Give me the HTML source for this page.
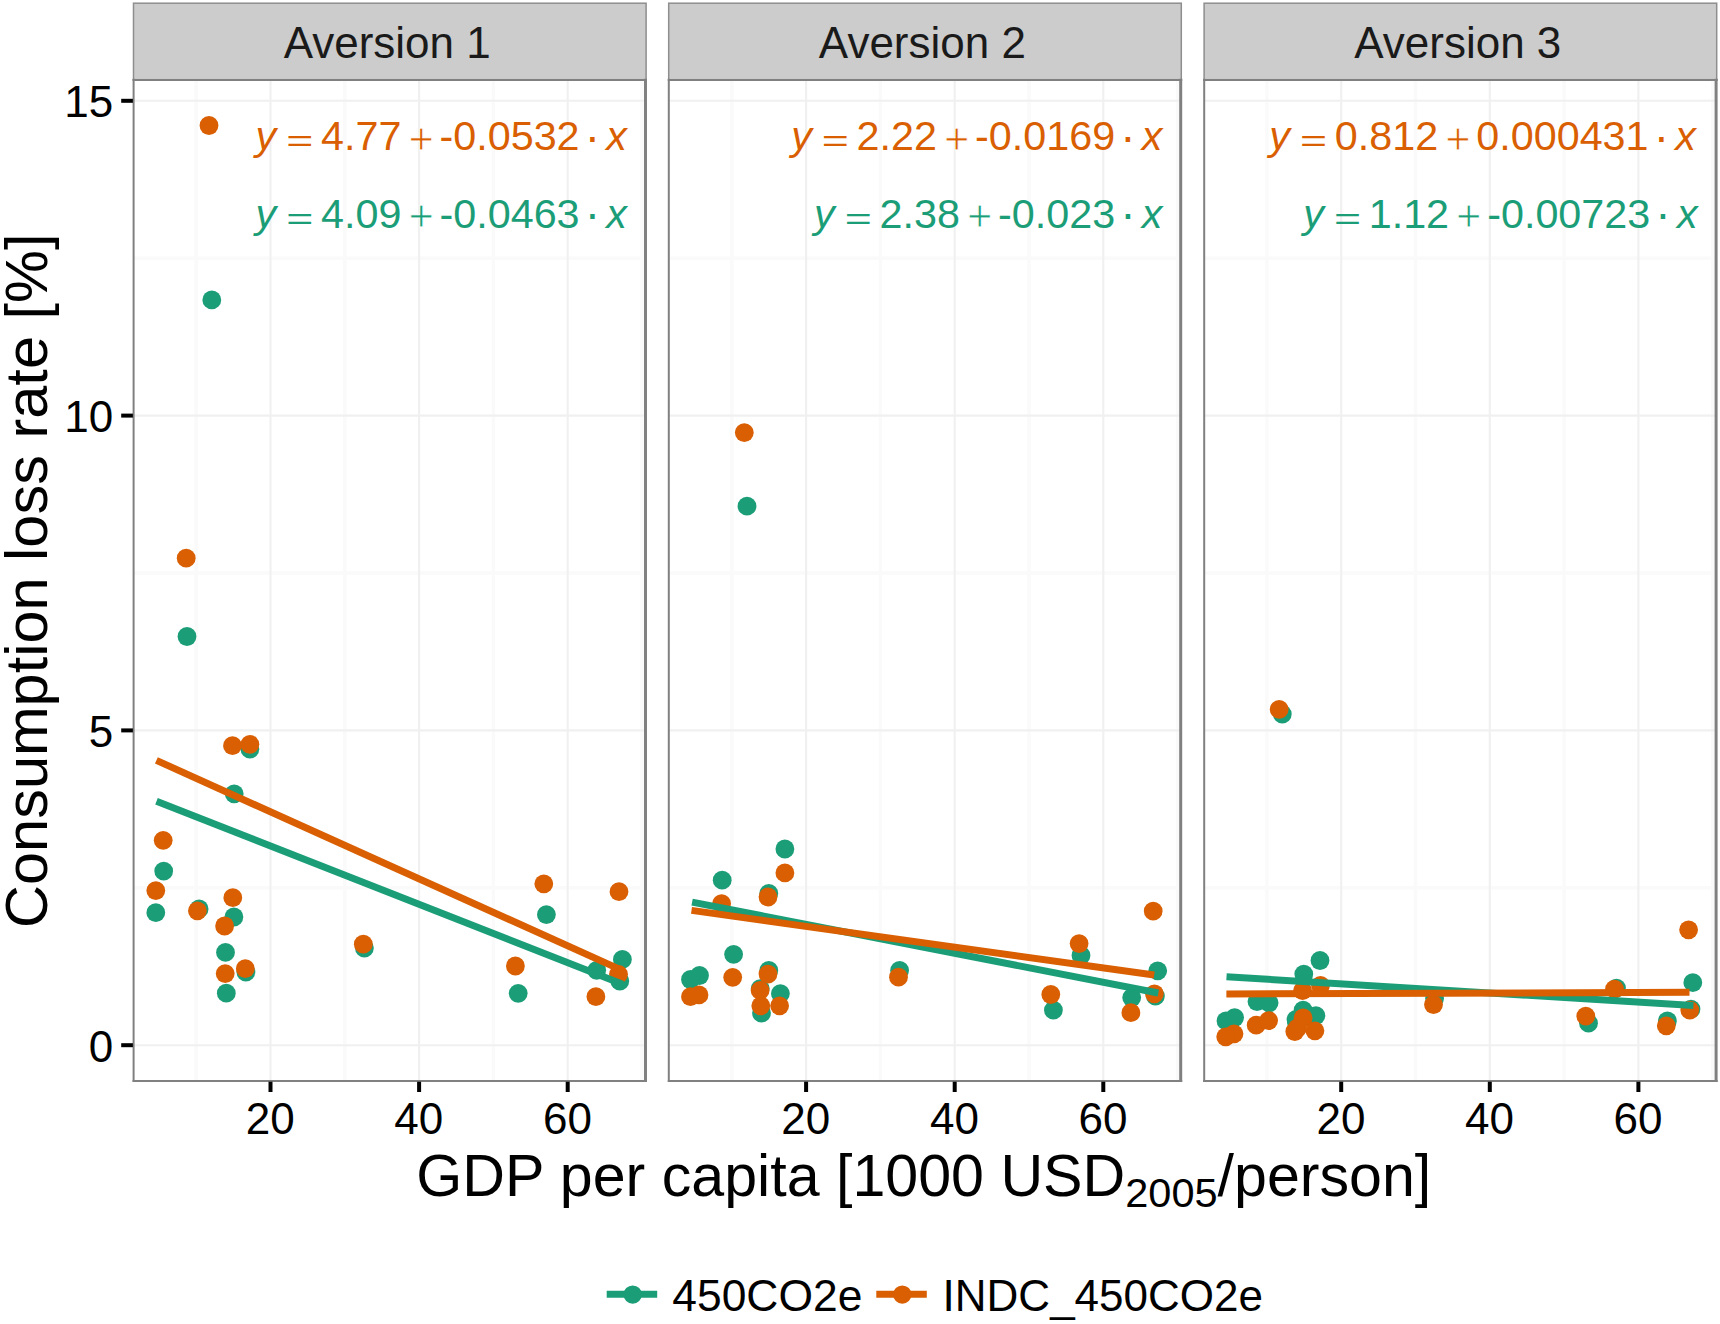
<!DOCTYPE html>
<html><head><meta charset="utf-8"><title>Consumption loss rate vs GDP per capita</title>
<style>html,body{margin:0;padding:0;background:#fff}svg{display:block}</style></head>
<body>
<svg width="1720" height="1324" viewBox="0 0 1720 1324" font-family='"Liberation Sans", sans-serif'>
<rect width="1720" height="1324" fill="#fff"/>
<g>
<rect x="133.9" y="79.8" width="511.7" height="1000.9000000000001" fill="#fff"/>
<line x1="196.2" x2="196.2" y1="79.8" y2="1080.7" stroke="#fafafa" stroke-width="3.4"/>
<line x1="344.8" x2="344.8" y1="79.8" y2="1080.7" stroke="#fafafa" stroke-width="3.4"/>
<line x1="493.4" x2="493.4" y1="79.8" y2="1080.7" stroke="#fafafa" stroke-width="3.4"/>
<line x1="642.0" x2="642.0" y1="79.8" y2="1080.7" stroke="#fafafa" stroke-width="3.4"/>
<line x1="133.9" x2="645.6" y1="887.8" y2="887.8" stroke="#fafafa" stroke-width="3.4"/>
<line x1="133.9" x2="645.6" y1="573.0" y2="573.0" stroke="#fafafa" stroke-width="3.4"/>
<line x1="133.9" x2="645.6" y1="258.2" y2="258.2" stroke="#fafafa" stroke-width="3.4"/>
<line x1="270.5" x2="270.5" y1="79.8" y2="1080.7" stroke="#f0f0f0" stroke-width="2.1"/>
<line x1="419.1" x2="419.1" y1="79.8" y2="1080.7" stroke="#f0f0f0" stroke-width="2.1"/>
<line x1="567.7" x2="567.7" y1="79.8" y2="1080.7" stroke="#f0f0f0" stroke-width="2.1"/>
<line x1="133.9" x2="645.6" y1="1045.2" y2="1045.2" stroke="#f0f0f0" stroke-width="2.1"/>
<line x1="133.9" x2="645.6" y1="730.4" y2="730.4" stroke="#f0f0f0" stroke-width="2.1"/>
<line x1="133.9" x2="645.6" y1="415.6" y2="415.6" stroke="#f0f0f0" stroke-width="2.1"/>
<line x1="133.9" x2="645.6" y1="100.8" y2="100.8" stroke="#f0f0f0" stroke-width="2.1"/>
<circle cx="211.8" cy="299.9" r="9.4" fill="#1B9E77"/>
<circle cx="187.0" cy="636.5" r="9.4" fill="#1B9E77"/>
<circle cx="249.9" cy="749.0" r="9.4" fill="#1B9E77"/>
<circle cx="234.2" cy="793.8" r="9.4" fill="#1B9E77"/>
<circle cx="163.7" cy="871.1" r="9.4" fill="#1B9E77"/>
<circle cx="155.8" cy="912.7" r="9.4" fill="#1B9E77"/>
<circle cx="199.1" cy="908.9" r="9.4" fill="#1B9E77"/>
<circle cx="233.9" cy="917.0" r="9.4" fill="#1B9E77"/>
<circle cx="225.5" cy="952.4" r="9.4" fill="#1B9E77"/>
<circle cx="245.9" cy="972.0" r="9.4" fill="#1B9E77"/>
<circle cx="226.3" cy="993.2" r="9.4" fill="#1B9E77"/>
<circle cx="364.4" cy="948.0" r="9.4" fill="#1B9E77"/>
<circle cx="546.4" cy="914.6" r="9.4" fill="#1B9E77"/>
<circle cx="622.4" cy="959.4" r="9.4" fill="#1B9E77"/>
<circle cx="596.7" cy="970.3" r="9.4" fill="#1B9E77"/>
<circle cx="619.8" cy="981.0" r="9.4" fill="#1B9E77"/>
<circle cx="518.2" cy="993.3" r="9.4" fill="#1B9E77"/>
<circle cx="209.0" cy="125.5" r="9.4" fill="#D95F02"/>
<circle cx="186.2" cy="558.2" r="9.4" fill="#D95F02"/>
<circle cx="232.5" cy="745.7" r="9.4" fill="#D95F02"/>
<circle cx="249.9" cy="744.3" r="9.4" fill="#D95F02"/>
<circle cx="163.2" cy="840.3" r="9.4" fill="#D95F02"/>
<circle cx="155.8" cy="890.6" r="9.4" fill="#D95F02"/>
<circle cx="197.4" cy="910.8" r="9.4" fill="#D95F02"/>
<circle cx="232.8" cy="897.7" r="9.4" fill="#D95F02"/>
<circle cx="224.6" cy="926.0" r="9.4" fill="#D95F02"/>
<circle cx="225.2" cy="973.6" r="9.4" fill="#D95F02"/>
<circle cx="245.3" cy="968.7" r="9.4" fill="#D95F02"/>
<circle cx="363.3" cy="944.2" r="9.4" fill="#D95F02"/>
<circle cx="543.8" cy="883.8" r="9.4" fill="#D95F02"/>
<circle cx="619.0" cy="891.7" r="9.4" fill="#D95F02"/>
<circle cx="515.4" cy="966.0" r="9.4" fill="#D95F02"/>
<circle cx="595.9" cy="996.7" r="9.4" fill="#D95F02"/>
<circle cx="618.5" cy="974.3" r="9.4" fill="#D95F02"/>
<line x1="156.5" y1="801.3" x2="622.7" y2="984.2" stroke="#1B9E77" stroke-width="7.0"/>
<line x1="156.4" y1="760.4" x2="618.8" y2="968.9" stroke="#D95F02" stroke-width="7.0"/>
<g fill="#D95F02" font-size="41.3">
<text x="265.9" y="150.0" font-style="italic" text-anchor="middle">y</text>
<text transform="translate(299.8,151.2) scale(1.16,0.72)" text-anchor="middle" font-size="40">=</text>
<text x="321.0" y="150.0">4.77</text>
<text x="421.1" y="153.9" text-anchor="middle" font-size="43.5" stroke="#fff" stroke-width="0.9">+</text>
<text x="439.5" y="150.0">-0.0532</text>
<text x="592.3" y="151.6" text-anchor="middle" font-size="46">·</text>
<text x="616.6" y="150.0" font-style="italic" text-anchor="middle">x</text>
</g>
<g fill="#1B9E77" font-size="41.3">
<text x="265.9" y="227.5" font-style="italic" text-anchor="middle">y</text>
<text transform="translate(299.8,228.7) scale(1.16,0.72)" text-anchor="middle" font-size="40">=</text>
<text x="321.0" y="227.5">4.09</text>
<text x="421.1" y="231.4" text-anchor="middle" font-size="43.5" stroke="#fff" stroke-width="0.9">+</text>
<text x="439.5" y="227.5">-0.0463</text>
<text x="592.3" y="229.1" text-anchor="middle" font-size="46">·</text>
<text x="616.6" y="227.5" font-style="italic" text-anchor="middle">x</text>
</g>
<rect x="133.5" y="3.1999999999999997" width="512.6" height="76.5" fill="#cccccc" stroke="#8e8e8e" stroke-width="1.5"/>
<g stroke="#808080" fill="none">
<line x1="133.6" x2="133.6" y1="78.8" y2="1081.9" stroke-width="2"/>
<line x1="645.5" x2="645.5" y1="78.8" y2="1081.9" stroke-width="3"/>
<line x1="132.6" x2="647.0" y1="80.0" y2="80.0" stroke-width="2"/>
<line x1="132.6" x2="647.0" y1="1080.9" y2="1080.9" stroke-width="2"/>
</g>
<text x="387.2" y="58.2" font-size="44" fill="#1a1a1a" text-anchor="middle">Aversion 1</text>
<line x1="270.5" x2="270.5" y1="1081.7" y2="1092" stroke="#000" stroke-width="4"/>
<text x="270.2" y="1133.8" font-size="44" text-anchor="middle" fill="#000">20</text>
<line x1="419.1" x2="419.1" y1="1081.7" y2="1092" stroke="#000" stroke-width="4"/>
<text x="418.8" y="1133.8" font-size="44" text-anchor="middle" fill="#000">40</text>
<line x1="567.7" x2="567.7" y1="1081.7" y2="1092" stroke="#000" stroke-width="4"/>
<text x="567.4" y="1133.8" font-size="44" text-anchor="middle" fill="#000">60</text>
</g>
<g>
<rect x="669.1" y="79.8" width="511.7" height="1000.9000000000001" fill="#fff"/>
<line x1="731.8" x2="731.8" y1="79.8" y2="1080.7" stroke="#fafafa" stroke-width="3.4"/>
<line x1="880.4" x2="880.4" y1="79.8" y2="1080.7" stroke="#fafafa" stroke-width="3.4"/>
<line x1="1029.0" x2="1029.0" y1="79.8" y2="1080.7" stroke="#fafafa" stroke-width="3.4"/>
<line x1="1177.6" x2="1177.6" y1="79.8" y2="1080.7" stroke="#fafafa" stroke-width="3.4"/>
<line x1="669.1" x2="1180.8" y1="887.8" y2="887.8" stroke="#fafafa" stroke-width="3.4"/>
<line x1="669.1" x2="1180.8" y1="573.0" y2="573.0" stroke="#fafafa" stroke-width="3.4"/>
<line x1="669.1" x2="1180.8" y1="258.2" y2="258.2" stroke="#fafafa" stroke-width="3.4"/>
<line x1="806.1" x2="806.1" y1="79.8" y2="1080.7" stroke="#f0f0f0" stroke-width="2.1"/>
<line x1="954.7" x2="954.7" y1="79.8" y2="1080.7" stroke="#f0f0f0" stroke-width="2.1"/>
<line x1="1103.3" x2="1103.3" y1="79.8" y2="1080.7" stroke="#f0f0f0" stroke-width="2.1"/>
<line x1="669.1" x2="1180.8" y1="1045.2" y2="1045.2" stroke="#f0f0f0" stroke-width="2.1"/>
<line x1="669.1" x2="1180.8" y1="730.4" y2="730.4" stroke="#f0f0f0" stroke-width="2.1"/>
<line x1="669.1" x2="1180.8" y1="415.6" y2="415.6" stroke="#f0f0f0" stroke-width="2.1"/>
<line x1="669.1" x2="1180.8" y1="100.8" y2="100.8" stroke="#f0f0f0" stroke-width="2.1"/>
<circle cx="747.0" cy="506.2" r="9.4" fill="#1B9E77"/>
<circle cx="784.9" cy="849.0" r="9.4" fill="#1B9E77"/>
<circle cx="722.2" cy="880.2" r="9.4" fill="#1B9E77"/>
<circle cx="768.8" cy="893.4" r="9.4" fill="#1B9E77"/>
<circle cx="733.6" cy="954.3" r="9.4" fill="#1B9E77"/>
<circle cx="699.5" cy="975.5" r="9.4" fill="#1B9E77"/>
<circle cx="690.5" cy="979.5" r="9.4" fill="#1B9E77"/>
<circle cx="768.8" cy="970.4" r="9.4" fill="#1B9E77"/>
<circle cx="899.6" cy="970.4" r="9.4" fill="#1B9E77"/>
<circle cx="760.2" cy="988.6" r="9.4" fill="#1B9E77"/>
<circle cx="780.4" cy="993.6" r="9.4" fill="#1B9E77"/>
<circle cx="761.5" cy="1013.0" r="9.4" fill="#1B9E77"/>
<circle cx="1081.0" cy="955.5" r="9.4" fill="#1B9E77"/>
<circle cx="1157.7" cy="970.8" r="9.4" fill="#1B9E77"/>
<circle cx="1053.4" cy="1010.1" r="9.4" fill="#1B9E77"/>
<circle cx="1131.7" cy="997.6" r="9.4" fill="#1B9E77"/>
<circle cx="1155.4" cy="996.1" r="9.4" fill="#1B9E77"/>
<circle cx="744.3" cy="432.6" r="9.4" fill="#D95F02"/>
<circle cx="784.9" cy="872.9" r="9.4" fill="#D95F02"/>
<circle cx="721.6" cy="903.7" r="9.4" fill="#D95F02"/>
<circle cx="768.0" cy="897.0" r="9.4" fill="#D95F02"/>
<circle cx="732.7" cy="977.3" r="9.4" fill="#D95F02"/>
<circle cx="699.0" cy="994.9" r="9.4" fill="#D95F02"/>
<circle cx="690.5" cy="996.7" r="9.4" fill="#D95F02"/>
<circle cx="768.0" cy="974.1" r="9.4" fill="#D95F02"/>
<circle cx="898.5" cy="977.2" r="9.4" fill="#D95F02"/>
<circle cx="760.1" cy="990.4" r="9.4" fill="#D95F02"/>
<circle cx="760.8" cy="1005.8" r="9.4" fill="#D95F02"/>
<circle cx="779.6" cy="1005.8" r="9.4" fill="#D95F02"/>
<circle cx="1153.2" cy="911.1" r="9.4" fill="#D95F02"/>
<circle cx="1079.1" cy="943.6" r="9.4" fill="#D95F02"/>
<circle cx="1050.8" cy="994.5" r="9.4" fill="#D95F02"/>
<circle cx="1130.9" cy="1012.7" r="9.4" fill="#D95F02"/>
<circle cx="1154.4" cy="993.8" r="9.4" fill="#D95F02"/>
<line x1="692.1" y1="902.1" x2="1158.3" y2="993.0" stroke="#1B9E77" stroke-width="7.0"/>
<line x1="691.5" y1="910.4" x2="1154.2" y2="975.0" stroke="#D95F02" stroke-width="7.0"/>
<g fill="#D95F02" font-size="41.3">
<text x="801.5" y="150.0" font-style="italic" text-anchor="middle">y</text>
<text transform="translate(835.4,151.2) scale(1.16,0.72)" text-anchor="middle" font-size="40">=</text>
<text x="856.6" y="150.0">2.22</text>
<text x="956.7" y="153.9" text-anchor="middle" font-size="43.5" stroke="#fff" stroke-width="0.9">+</text>
<text x="975.1" y="150.0">-0.0169</text>
<text x="1127.9" y="151.6" text-anchor="middle" font-size="46">·</text>
<text x="1152.2" y="150.0" font-style="italic" text-anchor="middle">x</text>
</g>
<g fill="#1B9E77" font-size="41.3">
<text x="824.4" y="227.5" font-style="italic" text-anchor="middle">y</text>
<text transform="translate(858.3,228.7) scale(1.16,0.72)" text-anchor="middle" font-size="40">=</text>
<text x="879.5" y="227.5">2.38</text>
<text x="979.6" y="231.4" text-anchor="middle" font-size="43.5" stroke="#fff" stroke-width="0.9">+</text>
<text x="998.0" y="227.5">-0.023</text>
<text x="1127.9" y="229.1" text-anchor="middle" font-size="46">·</text>
<text x="1152.2" y="227.5" font-style="italic" text-anchor="middle">x</text>
</g>
<rect x="668.7" y="3.1999999999999997" width="512.6" height="76.5" fill="#cccccc" stroke="#8e8e8e" stroke-width="1.5"/>
<g stroke="#808080" fill="none">
<line x1="668.8" x2="668.8" y1="78.8" y2="1081.9" stroke-width="2"/>
<line x1="1180.7" x2="1180.7" y1="78.8" y2="1081.9" stroke-width="3"/>
<line x1="667.8" x2="1182.2" y1="80.0" y2="80.0" stroke-width="2"/>
<line x1="667.8" x2="1182.2" y1="1080.9" y2="1080.9" stroke-width="2"/>
</g>
<text x="922.4" y="58.2" font-size="44" fill="#1a1a1a" text-anchor="middle">Aversion 2</text>
<line x1="806.1" x2="806.1" y1="1081.7" y2="1092" stroke="#000" stroke-width="4"/>
<text x="805.8" y="1133.8" font-size="44" text-anchor="middle" fill="#000">20</text>
<line x1="954.7" x2="954.7" y1="1081.7" y2="1092" stroke="#000" stroke-width="4"/>
<text x="954.4" y="1133.8" font-size="44" text-anchor="middle" fill="#000">40</text>
<line x1="1103.3" x2="1103.3" y1="1081.7" y2="1092" stroke="#000" stroke-width="4"/>
<text x="1103.0" y="1133.8" font-size="44" text-anchor="middle" fill="#000">60</text>
</g>
<g>
<rect x="1204.5" y="79.8" width="511.7" height="1000.9000000000001" fill="#fff"/>
<line x1="1266.9" x2="1266.9" y1="79.8" y2="1080.7" stroke="#fafafa" stroke-width="3.4"/>
<line x1="1415.5" x2="1415.5" y1="79.8" y2="1080.7" stroke="#fafafa" stroke-width="3.4"/>
<line x1="1564.1" x2="1564.1" y1="79.8" y2="1080.7" stroke="#fafafa" stroke-width="3.4"/>
<line x1="1712.7" x2="1712.7" y1="79.8" y2="1080.7" stroke="#fafafa" stroke-width="3.4"/>
<line x1="1204.5" x2="1716.2" y1="887.8" y2="887.8" stroke="#fafafa" stroke-width="3.4"/>
<line x1="1204.5" x2="1716.2" y1="573.0" y2="573.0" stroke="#fafafa" stroke-width="3.4"/>
<line x1="1204.5" x2="1716.2" y1="258.2" y2="258.2" stroke="#fafafa" stroke-width="3.4"/>
<line x1="1341.2" x2="1341.2" y1="79.8" y2="1080.7" stroke="#f0f0f0" stroke-width="2.1"/>
<line x1="1489.8" x2="1489.8" y1="79.8" y2="1080.7" stroke="#f0f0f0" stroke-width="2.1"/>
<line x1="1638.4" x2="1638.4" y1="79.8" y2="1080.7" stroke="#f0f0f0" stroke-width="2.1"/>
<line x1="1204.5" x2="1716.2" y1="1045.2" y2="1045.2" stroke="#f0f0f0" stroke-width="2.1"/>
<line x1="1204.5" x2="1716.2" y1="730.4" y2="730.4" stroke="#f0f0f0" stroke-width="2.1"/>
<line x1="1204.5" x2="1716.2" y1="415.6" y2="415.6" stroke="#f0f0f0" stroke-width="2.1"/>
<line x1="1204.5" x2="1716.2" y1="100.8" y2="100.8" stroke="#f0f0f0" stroke-width="2.1"/>
<circle cx="1282.3" cy="714.1" r="9.4" fill="#1B9E77"/>
<circle cx="1320.0" cy="960.5" r="9.4" fill="#1B9E77"/>
<circle cx="1303.8" cy="974.1" r="9.4" fill="#1B9E77"/>
<circle cx="1257.0" cy="1001.6" r="9.4" fill="#1B9E77"/>
<circle cx="1269.1" cy="1002.8" r="9.4" fill="#1B9E77"/>
<circle cx="1234.6" cy="1017.6" r="9.4" fill="#1B9E77"/>
<circle cx="1226.0" cy="1020.9" r="9.4" fill="#1B9E77"/>
<circle cx="1303.1" cy="1010.1" r="9.4" fill="#1B9E77"/>
<circle cx="1296.0" cy="1019.4" r="9.4" fill="#1B9E77"/>
<circle cx="1296.5" cy="1023.0" r="9.4" fill="#1B9E77"/>
<circle cx="1315.9" cy="1015.6" r="9.4" fill="#1B9E77"/>
<circle cx="1434.6" cy="998.3" r="9.4" fill="#1B9E77"/>
<circle cx="1692.8" cy="982.7" r="9.4" fill="#1B9E77"/>
<circle cx="1616.5" cy="988.1" r="9.4" fill="#1B9E77"/>
<circle cx="1588.5" cy="1023.2" r="9.4" fill="#1B9E77"/>
<circle cx="1667.4" cy="1020.9" r="9.4" fill="#1B9E77"/>
<circle cx="1691.0" cy="1009.1" r="9.4" fill="#1B9E77"/>
<circle cx="1279.2" cy="709.3" r="9.4" fill="#D95F02"/>
<circle cx="1320.5" cy="985.4" r="9.4" fill="#D95F02"/>
<circle cx="1302.6" cy="990.7" r="9.4" fill="#D95F02"/>
<circle cx="1256.2" cy="1025.2" r="9.4" fill="#D95F02"/>
<circle cx="1268.6" cy="1020.6" r="9.4" fill="#D95F02"/>
<circle cx="1234.0" cy="1033.8" r="9.4" fill="#D95F02"/>
<circle cx="1225.7" cy="1036.8" r="9.4" fill="#D95F02"/>
<circle cx="1303.1" cy="1017.9" r="9.4" fill="#D95F02"/>
<circle cx="1294.8" cy="1031.5" r="9.4" fill="#D95F02"/>
<circle cx="1297.5" cy="1028.0" r="9.4" fill="#D95F02"/>
<circle cx="1314.9" cy="1030.8" r="9.4" fill="#D95F02"/>
<circle cx="1433.5" cy="1004.6" r="9.4" fill="#D95F02"/>
<circle cx="1688.6" cy="929.8" r="9.4" fill="#D95F02"/>
<circle cx="1614.5" cy="989.2" r="9.4" fill="#D95F02"/>
<circle cx="1585.8" cy="1016.1" r="9.4" fill="#D95F02"/>
<circle cx="1666.3" cy="1025.8" r="9.4" fill="#D95F02"/>
<circle cx="1689.8" cy="1010.1" r="9.4" fill="#D95F02"/>
<line x1="1226.5" y1="976.8" x2="1693.4" y2="1005.4" stroke="#1B9E77" stroke-width="7.0"/>
<line x1="1226.4" y1="994.0" x2="1689.5" y2="992.3" stroke="#D95F02" stroke-width="7.0"/>
<g fill="#D95F02" font-size="41.3">
<text x="1279.7" y="150.0" font-style="italic" text-anchor="middle">y</text>
<text transform="translate(1313.6,151.2) scale(1.16,0.72)" text-anchor="middle" font-size="40">=</text>
<text x="1334.8" y="150.0">0.812</text>
<text x="1457.9" y="153.9" text-anchor="middle" font-size="43.5" stroke="#fff" stroke-width="0.9">+</text>
<text x="1476.3" y="150.0">0.000431</text>
<text x="1661.3" y="151.6" text-anchor="middle" font-size="46">·</text>
<text x="1685.6" y="150.0" font-style="italic" text-anchor="middle">x</text>
</g>
<g fill="#1B9E77" font-size="41.3">
<text x="1313.6" y="227.5" font-style="italic" text-anchor="middle">y</text>
<text transform="translate(1347.5,228.7) scale(1.16,0.72)" text-anchor="middle" font-size="40">=</text>
<text x="1368.7" y="227.5">1.12</text>
<text x="1468.8" y="231.4" text-anchor="middle" font-size="43.5" stroke="#fff" stroke-width="0.9">+</text>
<text x="1487.2" y="227.5">-0.00723</text>
<text x="1663.0" y="229.1" text-anchor="middle" font-size="46">·</text>
<text x="1687.3" y="227.5" font-style="italic" text-anchor="middle">x</text>
</g>
<rect x="1204.1" y="3.1999999999999997" width="512.6" height="76.5" fill="#cccccc" stroke="#8e8e8e" stroke-width="1.5"/>
<g stroke="#808080" fill="none">
<line x1="1204.2" x2="1204.2" y1="78.8" y2="1081.9" stroke-width="2"/>
<line x1="1716.1" x2="1716.1" y1="78.8" y2="1081.9" stroke-width="3"/>
<line x1="1203.2" x2="1717.6" y1="80.0" y2="80.0" stroke-width="2"/>
<line x1="1203.2" x2="1717.6" y1="1080.9" y2="1080.9" stroke-width="2"/>
</g>
<text x="1457.8" y="58.2" font-size="44" fill="#1a1a1a" text-anchor="middle">Aversion 3</text>
<line x1="1341.2" x2="1341.2" y1="1081.7" y2="1092" stroke="#000" stroke-width="4"/>
<text x="1340.9" y="1133.8" font-size="44" text-anchor="middle" fill="#000">20</text>
<line x1="1489.8" x2="1489.8" y1="1081.7" y2="1092" stroke="#000" stroke-width="4"/>
<text x="1489.5" y="1133.8" font-size="44" text-anchor="middle" fill="#000">40</text>
<line x1="1638.4" x2="1638.4" y1="1081.7" y2="1092" stroke="#000" stroke-width="4"/>
<text x="1638.1" y="1133.8" font-size="44" text-anchor="middle" fill="#000">60</text>
</g>
<line x1="121.2" x2="132.9" y1="1045.2" y2="1045.2" stroke="#000" stroke-width="4"/>
<text x="113.2" y="1061.7" font-size="44" text-anchor="end" fill="#000">0</text>
<line x1="121.2" x2="132.9" y1="730.4" y2="730.4" stroke="#000" stroke-width="4"/>
<text x="113.2" y="746.9" font-size="44" text-anchor="end" fill="#000">5</text>
<line x1="121.2" x2="132.9" y1="415.6" y2="415.6" stroke="#000" stroke-width="4"/>
<text x="113.2" y="432.1" font-size="44" text-anchor="end" fill="#000">10</text>
<line x1="121.2" x2="132.9" y1="100.8" y2="100.8" stroke="#000" stroke-width="4"/>
<text x="113.2" y="117.3" font-size="44" text-anchor="end" fill="#000">15</text>
<text x="416.3" y="1196.3" font-size="59.15" fill="#000">GDP per capita [1000 USD<tspan font-size="41.5" dy="10.8">2005</tspan><tspan dy="-10.8">/person]</tspan></text>
<text transform="translate(46.8,928) rotate(-90)" font-size="59.5" fill="#000">Consumption loss rate [%]</text>
<line x1="606.7" x2="657.2" y1="1294.2" y2="1294.2" stroke="#1B9E77" stroke-width="7"/>
<circle cx="632.7" cy="1294.6" r="9.2" fill="#1B9E77"/>
<text x="672.3" y="1311.4" font-size="44.4" fill="#000">450CO2e</text>
<line x1="876.3" x2="926.8" y1="1294.2" y2="1294.2" stroke="#D95F02" stroke-width="7"/>
<circle cx="902.3" cy="1294.6" r="9.2" fill="#D95F02"/>
<text x="942.6" y="1311.4" font-size="44" fill="#000">INDC_450CO2e</text>
</svg>
</body></html>
